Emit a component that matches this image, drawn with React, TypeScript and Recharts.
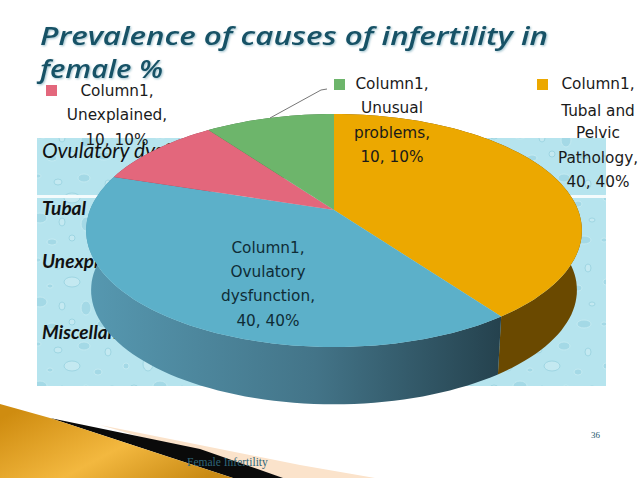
import React from "react";
import { PieChart, Pie, Cell } from "recharts";

const seriesName = "Column1";
const categories = ["Tubal and Pelvic Pathology", "Ovulatory dysfunction", "Unexplained", "Unusual problems"];
const values = [40, 40, 10, 10];
const colors = ["#eca800", "#5cb0c9", "#e3677c", "#6db56b"];
const sideColors = ["#6a4900", "url(#blueSide)", "#8c3f4d", "#437043"];

const rowLabels = ["Ovulatory dysfunction", "Tubal and Pelvic Pathology", "Unexplained", "Miscellaneous"];
const titleLines = ["Prevalence of causes of infertility in", "female %"];

// where each data label goes, same order as categories
const labelLayout = [
  { x: 598, ys: [89, 116, 138, 163, 187], lines: ["Tubal and", "Pelvic", "Pathology,"], keyX: 537, keyY: 79 },
  { x: 268, ys: [253, 277, 301, 326], lines: ["Ovulatory", "dysfunction,"], keyX: 206, keyY: 243 },
  { x: 117, ys: [96, 120, 145], lines: ["Unexplained,"], keyX: 46, keyY: 85 },
  { x: 392, ys: [89, 113, 138, 162], lines: ["Unusual", "problems,"], keyX: 334, keyY: 79 },
];

// water drops of the table texture: x, y, rx, ry
const drops = [
  [14, 12, 7, 4], [38, 8, 3, 2], [58, 14, 4, 3], [84, 10, 6, 4], [108, 16, 3, 4],
  [6, 30, 3, 3], [28, 28, 5, 7], [50, 34, 3, 2], [72, 30, 8, 5], [98, 36, 4, 3],
  [14, 52, 4, 3], [40, 50, 7, 5], [62, 54, 3, 4], [86, 56, 5, 7], [112, 52, 3, 2],
  [4, 72, 3, 2], [26, 72, 4, 3], [52, 74, 5, 3], [72, 70, 3, 3], [104, 72, 7, 4],
];

const W = 638;
const H = 478;
const CX = 334;
const CY = 210;
const RX = 244;
const RY = 112.9;
const TILT = 0.176;
const DEPTH = 60;
const LOWER_SCALE = 0.98;

const project = (deg: number, scale = 1, dy = 0) => {
  const a = (deg * Math.PI) / 180;
  const u = Math.cos(a);
  const v = -Math.sin(a);
  const d = 1 - TILT * v;
  return [CX + (scale * RX * u) / d, CY + dy + (scale * RY * v) / d];
};

const arc = (start: number, end: number, scale = 1, dy = 0) => {
  const steps = Math.max(2, Math.ceil(Math.abs(end - start) / 2));
  const pts = [];
  for (let i = 0; i <= steps; i++) pts.push(project(start + ((end - start) * i) / steps, scale, dy));
  return pts;
};

const toPath = (pts: number[][]) =>
  "M" + pts.map((p) => `${p[0].toFixed(1)},${p[1].toFixed(1)}`).join("L") + "Z";

const TopSlice = (props: any) => (
  <path d={toPath([[CX, CY], ...arc(props.startAngle, props.endAngle)])} fill={props.fill} stroke="none" />
);

const SideSlice = (props: any) => {
  const top = arc(props.startAngle, props.endAngle);
  const low = arc(props.startAngle, props.endAngle, LOWER_SCALE, DEPTH).reverse();
  return <path d={toPath([...top, ...low])} fill={props.fill} stroke="none" />;
};

const renderLabel = (props: any) => {
  const i = props.index;
  const spec = labelLayout[i];
  const texts = [`${seriesName},`, ...spec.lines, `${values[i]}, ${values[i]}%`];
  return (
    <g key={i}>
      <rect x={spec.keyX} y={spec.keyY} width={11} height={11} fill={colors[i]} />
      {i === 3 && <path d="M270,118 L321,90 L327,89" fill="none" stroke="#777" strokeWidth={1} />}
      {texts.map((t, j) => (
        <text
          key={j}
          x={spec.x}
          y={spec.ys[j]}
          textAnchor="middle"
          fontFamily="DejaVu Sans"
          fontSize={15.3}
          fill={i === 1 ? "#0f2c36" : "#1a1a1a"}
        >
          {t}
        </text>
      ))}
    </g>
  );
};

const SlideBackground = () => (
  <svg width={W} height={H} style={{ position: "absolute", left: 0, top: 0 }}>
    <defs>
      <pattern id="drops" width="120" height="84" patternUnits="userSpaceOnUse">
        <rect width="120" height="84" fill="#b6e4ee" />
        {drops.map((d, i) => (
          <ellipse
            key={i}
            cx={d[0]}
            cy={d[1]}
            rx={d[2]}
            ry={d[3]}
            fill={i % 2 ? "#a4d9e6" : "#c4e9f1"}
            stroke={i % 2 ? "#c8ecf3" : "#96d0de"}
            strokeWidth={0.8}
          />
        ))}
      </pattern>
      <linearGradient id="goldBand" x1="0" y1="0.2" x2="1" y2="0.8">
        <stop offset="0" stopColor="#cf8c10" />
        <stop offset="0.55" stopColor="#f3b83f" />
        <stop offset="1" stopColor="#c98a14" />
      </linearGradient>
    </defs>
    <rect x={37} y={138} width={569} height={248} fill="url(#drops)" />
    <rect x={37} y={195} width={569} height={3} fill="#f4fbfc" />
    {rowLabels.map((t, i) => (
      <text
        key={t}
        x={42}
        y={[158, 215, 268, 339][i]}
        fontFamily="Lato"
        fontStyle="italic"
        fontWeight={i === 0 ? 400 : 700}
        fontSize={i === 0 ? 21 : 19}
        fill="#111"
      >
        {t}
      </text>
    ))}
    <path d="M100,425 L300,465 L375,478 L283,478 Z" fill="#fbe3cb" />
    <path d="M50,418 L200,449 L283,478 L233,478 Z" fill="#0a0a0a" />
    <path d="M0,404 L50,418 L233,478 L0,478 Z" fill="url(#goldBand)" />
    <text x={187} y={466} fontFamily="Liberation Serif" fontSize={11.5} fill="#2f6678">
      Female Infertility
    </text>
    <text x={591} y={438} fontFamily="Liberation Serif" fontSize={9} fill="#24586a">
      36
    </text>
    {titleLines.map((t, i) => (
      <text
        key={t}
        x={40}
        y={i === 0 ? 45 : 78}
        fontFamily="Open Sans"
        fontStyle="italic"
        fontWeight={600}
        fontSize={26}
        fill="#175266"
        textLength={i === 0 ? 508 : 123}
        lengthAdjust="spacingAndGlyphs"
        style={{ filter: "drop-shadow(1px 1px 1px rgba(90,150,170,0.6))" }}
      >
        {t}
      </text>
    ))}
  </svg>
);

const data = categories.map((name, i) => ({ name, value: values[i] }));

export default function App() {
  return (
    <div style={{ position: "absolute", left: 0, top: 0, width: W, height: H, background: "#fff", overflow: "hidden" }}>
      <SlideBackground />
      <div style={{ position: "absolute", left: 0, top: 0 }}>
        <PieChart width={W} height={H} margin={{ top: 0, right: 0, bottom: 0, left: 0 }}>
          <defs>
            <linearGradient id="blueSide" gradientUnits="userSpaceOnUse" x1="90" y1="0" x2="500" y2="0">
              <stop offset="0" stopColor="#5698b0" />
              <stop offset="0.55" stopColor="#437488" />
              <stop offset="1" stopColor="#25424e" />
            </linearGradient>
          </defs>
          <Pie
            data={data}
            dataKey="value"
            cx={CX}
            cy={CY}
            outerRadius={100}
            startAngle={90}
            endAngle={-270}
            stroke="none"
            isAnimationActive={false}
            shape={SideSlice}
          >
            {data.map((d, i) => (
              <Cell key={d.name} fill={sideColors[i]} />
            ))}
          </Pie>
          <Pie
            data={data}
            dataKey="value"
            cx={CX}
            cy={CY}
            outerRadius={100}
            startAngle={90}
            endAngle={-270}
            stroke="none"
            isAnimationActive={false}
            shape={TopSlice}
            label={renderLabel}
            labelLine={false}
          >
            {data.map((d, i) => (
              <Cell key={d.name} fill={colors[i]} />
            ))}
          </Pie>
        </PieChart>
      </div>
    </div>
  );
}
